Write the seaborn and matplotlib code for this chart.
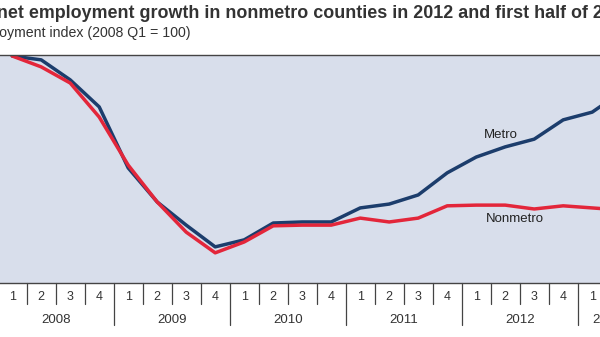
import matplotlib
matplotlib.use("Agg")
import matplotlib.pyplot as plt
import matplotlib.transforms as mtransforms
import numpy as np
import pandas as pd
import seaborn as sns

# Quarterly employment index, 2008 Q1 = 100 (2008 Q1 .. 2013 Q2)
years = ["2008", "2009", "2010", "2011", "2012", "2013"]
quarters_per_year = [4, 4, 4, 4, 4, 2]
quarter_labels = ["1", "2", "3", "4"] * 5 + ["1", "2"]

metro = [100.0, 99.89, 99.32, 98.55, 96.81, 95.84, 95.18, 94.56,
         94.76, 95.24, 95.27, 95.27, 95.67, 95.78, 96.04, 96.67,
         97.12, 97.41, 97.63, 98.18, 98.40, 98.97]
nonmetro = [100.0, 99.69, 99.23, 98.26, 96.89, 95.84, 94.98, 94.39,
            94.70, 95.16, 95.18, 95.18, 95.38, 95.27, 95.38, 95.73,
            95.75, 95.75, 95.64, 95.73, 95.67, 95.61]

title = "Slow net employment growth in nonmetro counties in 2012 and first half of 2013"
subtitle = "Employment index (2008 Q1 = 100)"

n = len(metro)
df = pd.DataFrame({
    "q": list(range(n)) * 2,
    "index": metro + nonmetro,
    "area": ["Metro"] * n + ["Nonmetro"] * n,
})

sns.set_theme(style="white")
plt.rcParams["font.family"] = ["Liberation Sans", "DejaVu Sans"]

W, H = 600, 337
TOP, BOT = 55, 283
fig = plt.figure(figsize=(W / 100, H / 100), dpi=100)
ax = fig.add_axes([0, 1 - BOT / H, 1, (BOT - TOP) / H])
ax.set_facecolor("#d8deeb")

palette = {"Metro": "#1c3d6c", "Nonmetro": "#e3263a"}
sns.lineplot(data=df, x="q", y="index", hue="area", palette=palette,
             linewidth=2.5, ax=ax, legend=False)

for s in ["left", "right"]:
    ax.spines[s].set_visible(False)
for s in ["top", "bottom"]:
    ax.spines[s].set_color("#444444")
    ax.spines[s].set_linewidth(1.0)
ax.set_yticks([])
ax.set_xlabel("")
ax.set_ylabel("")

ax.set_xticks(range(n))
ax.set_xticklabels(quarter_labels, fontsize=9, color="#333333")
ax.tick_params(axis="x", length=0, pad=5.5)

# separators under the axis: short ones between quarters, long ones between years
ph = BOT - TOP
trans = mtransforms.blended_transform_factory(ax.transData, ax.transAxes)
bounds = np.cumsum(quarters_per_year)
for i in range(n - 1):
    x = i + 0.5
    long_ = (i + 1) in bounds
    ax.plot([x, x], [0, -(42 if long_ else 21) / ph], color="#444444",
            lw=0.9, transform=trans, clip_on=False, scalex=False, scaley=False)

start = 0
for yr, nq in zip(years, quarters_per_year):
    center = start + (nq - 1) / 2
    ax.text(center, -37 / ph, yr, transform=trans, ha="center", va="center",
            fontsize=9.5, color="#333333")
    start += nq

ax.text(501, H - 135, "Metro", transform=None, ha="center", va="center",
        fontsize=9.5, color="#222222")
ax.text(515, H - 219, "Nonmetro", transform=None, ha="center", va="center",
        fontsize=9.5, color="#222222")

fig.text(-50 / W, 1 - 13 / H, title, ha="left", va="center",
         fontsize=12.9, fontweight="bold", color="#333333")
fig.text(-33 / W, 1 - 33 / H, subtitle, ha="left", va="center",
         fontsize=10.2, color="#333333")

# 29 px per quarter, first quarter centred 12 px from the left edge
step = 29.0
ax.set_xlim(-12.2 / step, (W - 12.2) / step)
k = 0.0285
ax.set_ylim(100 - (BOT - 56) * k, 100 + 1 * k)

fig.savefig("out.png", dpi=100)
